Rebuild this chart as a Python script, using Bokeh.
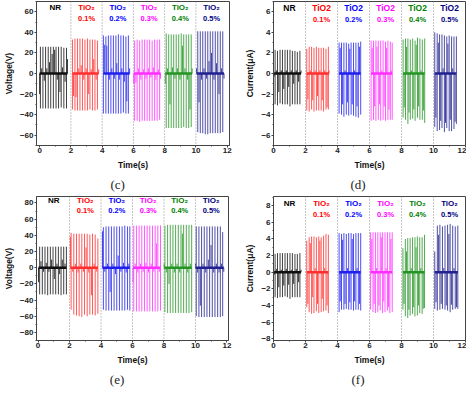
from bokeh.plotting import figure
from bokeh.models import Span, Label, FixedTicker, Range1d, LinearAxis
from bokeh.layouts import row, column
from bokeh.embed import file_html
from bokeh.resources import INLINE

# ---------------- shared data ----------------
SEG_NAMES = ["NR", "0.1%", "0.2%", "0.3%", "0.4%", "0.5%"]
SEG_COLORS = ["#111111", "#ff3030", "#2020ee", "#ff30ff", "#259525", "#222290"]
TEXT_COLORS = ["#000000", "#ff0000", "#0000ff", "#ff00ff", "#008000", "#000080"]
WINDOW_EDGES = [0, 2, 4, 6, 8, 10, 12]
DIVIDERS = [2, 4, 6, 8, 10]
X_TICKS = [0, 2, 4, 6, 8, 10, 12]
X_MINOR = [1, 3, 5, 7, 9, 11]

# ---------------- panel (c): voltage ----------------
C_T = [
    [0.05, 0.21, 0.38, 0.55, 0.71, 0.88, 1.05, 1.21, 1.38, 1.55, 1.72],
    [2.10, 2.26, 2.42, 2.58, 2.74, 2.90, 3.06, 3.22, 3.38, 3.54, 3.70],
    [4.08, 4.24, 4.40, 4.56, 4.72, 4.88, 5.04, 5.20, 5.36, 5.52, 5.68],
    [6.08, 6.24, 6.40, 6.56, 6.72, 6.88, 7.04, 7.20, 7.36, 7.52, 7.68],
    [8.10, 8.26, 8.42, 8.58, 8.74, 8.90, 9.06, 9.22, 9.38, 9.54, 9.70],
    [10.12, 10.28, 10.44, 10.60, 10.76, 10.92, 11.08, 11.24, 11.40, 11.56, 11.72],
]
C_POS = [
    [26, 26, 26, 26, 26, 26, 26, 26, 26, 25, 25],
    [33, 34, 34, 34, 34, 33, 34, 33, 33, 33, 32],
    [37, 36, 37, 37, 37, 37, 38, 37, 37, 36, 37],
    [32, 33, 32, 33, 33, 33, 33, 32, 33, 33, 33],
    [39, 38, 38, 38, 38, 38, 39, 38, 38, 38, 38],
    [41, 41, 41, 41, 41, 41, 41, 41, 41, 41, 41],
]
C_NEG = [
    [-34, -34, -34, -34, -34, -34, -34, -34, -33, -34, -34],
    [-35, -36, -36, -36, -36, -36, -36, -35, -36, -36, -35],
    [-39, -39, -39, -39, -39, -39, -39, -39, -38, -39, -39],
    [-46, -46, -47, -46, -46, -46, -46, -46, -46, -46, -45],
    [-53, -53, -53, -53, -53, -53, -53, -52, -53, -53, -52],
    [-57, -58, -58, -59, -59, -58, -58, -58, -58, -58, -57],
]
C_MT = [
    [0.00, 0.13, 0.30, 0.46, 0.63, 0.80, 0.96, 1.13, 1.30, 1.46, 1.63, 1.78],
    [2.17, 2.33, 2.50, 2.66, 2.82, 2.98, 3.14, 3.30, 3.46, 3.62, 3.78],
    [4.14, 4.30, 4.46, 4.62, 4.78, 4.94, 5.10, 5.26, 5.42, 5.58, 5.76],
    [6.02, 6.16, 6.32, 6.48, 6.64, 6.80, 6.96, 7.12, 7.28, 7.44, 7.60, 7.74],
    [8.04, 8.18, 8.34, 8.50, 8.66, 8.82, 8.98, 9.14, 9.30, 9.46, 9.62, 9.76],
    [10.04, 10.20, 10.36, 10.52, 10.68, 10.84, 11.00, 11.16, 11.32, 11.48, 11.64, 11.80],
]
C_MV = [
    [-20, 5, -7, 5, 11, 19, 23, -6, -18, 6, -8, 14],
    [-22, -23, 5, 8, -6, 5, -20, 4, 14, -6, 4],
    [28, 27, -6, 5, -5, 10, -6, 5, -8, -27, 5],
    [-10, -9, 5, -6, 4, -5, 5, -4, 6, -6, 4, -5],
    [-10, 5, -30, 6, -5, 5, -6, 27, 5, -6, -35, 5],
    [5, -28, -6, 5, -5, 12, 20, -6, 10, -20, 5, -5],
]

# ---------------- panel (d): current ----------------
D_T = [
    [0.10, 0.25, 0.41, 0.56, 0.72, 0.87, 1.03, 1.18, 1.34, 1.49, 1.65],
    [2.08, 2.23, 2.38, 2.53, 2.68, 2.83, 2.98, 3.13, 3.28, 3.43],
    [4.10, 4.25, 4.40, 4.55, 4.70, 4.85, 5.00, 5.15, 5.30, 5.45],
    [6.10, 6.25, 6.40, 6.55, 6.70, 6.85, 7.00, 7.15, 7.30, 7.42],
    [8.10, 8.25, 8.40, 8.55, 8.70, 8.85, 9.00, 9.15, 9.30, 9.45],
    [10.08, 10.23, 10.38, 10.53, 10.68, 10.83, 10.98, 11.13, 11.28, 11.43],
]
D_POS = [
    [2.3, 2.2, 2.3, 2.3, 2.3, 2.3, 2.3, 2.2, 2.2, 2.1, 2.2],
    [2.4, 2.6, 2.6, 2.5, 2.6, 2.5, 2.5, 2.5, 2.4, 2.6],
    [3.0, 3.0, 3.0, 3.0, 2.9, 3.0, 3.0, 3.0, 3.0, 3.1],
    [3.2, 3.2, 3.2, 3.2, 3.2, 3.2, 3.1, 3.2, 3.1, 3.0],
    [3.3, 3.4, 3.4, 3.3, 3.4, 3.2, 3.5, 3.4, 3.3, 3.4],
    [4.0, 3.9, 3.8, 3.8, 3.7, 3.6, 3.7, 3.6, 3.6, 3.6],
]
D_NEG = [
    [-3.0, -3.1, -2.9, -3.0, -3.0, -3.0, -3.2, -3.0, -3.0, -3.0, -3.0],
    [-3.6, -3.7, -3.5, -3.7, -3.6, -3.6, -3.6, -3.7, -3.5, -3.5],
    [-3.9, -4.0, -4.2, -4.0, -4.1, -4.0, -4.1, -4.2, -4.3, -4.0],
    [-4.6, -4.5, -4.6, -4.5, -4.6, -4.5, -4.6, -4.5, -4.5, -4.5],
    [-4.3, -4.5, -4.9, -4.5, -4.4, -4.6, -4.3, -4.5, -4.5, -4.8],
    [-5.2, -5.6, -5.5, -5.3, -5.7, -5.3, -5.6, -5.6, -5.4, -4.9],
]
D_MT = [
    [0.04, 0.18, 0.33, 0.49, 0.64, 0.80, 0.95, 1.11, 1.26, 1.42, 1.57, 1.72],
    [2.15, 2.30, 2.45, 2.60, 2.75, 2.90, 3.05, 3.20, 3.35, 3.47],
    [4.17, 4.32, 4.47, 4.62, 4.77, 4.92, 5.07, 5.22, 5.37],
    [6.17, 6.32, 6.47, 6.62, 6.77, 6.92, 7.07, 7.22, 7.36],
    [8.17, 8.32, 8.47, 8.62, 8.77, 8.92, 9.07, 9.22, 9.37],
    [10.15, 10.30, 10.45, 10.60, 10.75, 10.90, 11.05, 11.20, 11.35],
]
D_MV = [
    [-0.3, 0.3, -1.8, 0.3, -1.5, 0.3, -1.3, 0.3, -1.0, 0.3, -0.8, 0.3],
    [-2.5, 0.3, -2.6, 0.3, -2.2, 0.3, -2.6, 0.3, -3.3, 0.3],
    [2.5, -3.0, 0.3, -2.8, 2.4, -3.0, 0.3, -3.2, 2.6],
    [2.5, -3.2, 2.6, -3.0, 0.3, -3.2, 2.5, -3.5, 0.3],
    [-3.3, 2.6, -3.8, 0.3, -3.5, 2.8, -3.2, 0.3, -3.6],
    [-4.3, 3.0, -4.6, 0.5, -4.8, 2.9, -4.5, 0.5, -4.7],
]

# ---------------- panel (e): voltage ----------------
E_T = [
    [0.10, 0.27, 0.44, 0.61, 0.78, 0.95, 1.12, 1.29, 1.46, 1.63, 1.80],
    [2.10, 2.27, 2.44, 2.61, 2.78, 2.95, 3.12, 3.29, 3.46, 3.63, 3.80],
    [4.15, 4.32, 4.49, 4.66, 4.83, 5.00, 5.17, 5.34, 5.51, 5.68, 5.83],
    [6.08, 6.25, 6.42, 6.59, 6.76, 6.93, 7.10, 7.27, 7.44, 7.61, 7.78],
    [8.06, 8.23, 8.40, 8.57, 8.74, 8.91, 9.08, 9.25, 9.42, 9.59, 9.76],
    [10.05, 10.22, 10.39, 10.56, 10.73, 10.90, 11.07, 11.24, 11.41, 11.58, 11.73],
]
E_POS = [
    [26, 26, 26, 26, 26, 26, 26, 26, 26, 26, 26],
    [43, 42, 42, 42, 42, 42, 42, 41, 42, 41, 36],
    [50, 51, 51, 51, 51, 51, 51, 51, 52, 51, 51],
    [52, 52, 52, 52, 52, 52, 52, 52, 52, 52, 52],
    [52, 53, 53, 53, 53, 53, 53, 53, 53, 53, 53],
    [51, 51, 51, 51, 51, 51, 51, 51, 51, 51, 44],
]
E_NEG = [
    [-33, -33, -33, -34, -33, -33, -33, -33, -34, -33, -33],
    [-52, -58, -59, -60, -61, -58, -60, -58, -58, -59, -57],
    [-52, -53, -53, -53, -53, -53, -53, -53, -53, -52, -53],
    [-54, -54, -54, -54, -54, -54, -54, -54, -54, -54, -53],
    [-55, -56, -56, -56, -56, -56, -56, -56, -56, -56, -55],
    [-60, -61, -61, -61, -61, -61, -61, -61, -61, -61, -60],
]
E_MT = [
    [0.03, 0.18, 0.35, 0.52, 0.69, 0.86, 1.03, 1.20, 1.37, 1.54, 1.71],
    [2.05, 2.20, 2.37, 2.54, 2.71, 2.88, 3.05, 3.22, 3.39, 3.56, 3.73],
    [4.09, 4.24, 4.41, 4.58, 4.75, 4.92, 5.09, 5.26, 5.43, 5.60, 5.77],
    [6.03, 6.17, 6.34, 6.51, 6.68, 6.85, 7.02, 7.19, 7.36, 7.53, 7.70],
    [8.01, 8.15, 8.32, 8.49, 8.66, 8.83, 9.00, 9.17, 9.34, 9.51, 9.68],
    [10.00, 10.14, 10.31, 10.48, 10.65, 10.82, 10.99, 11.16, 11.33, 11.50, 11.66, 11.80],
]
E_MV = [
    [-18, 8, -5, 6, -5, 10, -14, 5, -8, 10, 5],
    [38, -5, 5, -6, 5, -5, 25, -6, -34, 5, -5],
    [45, -5, 5, -30, 5, -8, 15, -5, 6, -6, 5],
    [-18, 5, -6, 5, -5, 6, -6, 5, -5, 30, -5],
    [5, -6, -20, 5, -6, 5, -6, 42, 5, -6, 5],
    [5, -6, -47, 5, -6, 10, 28, -6, 5, -6, 5, -5],
]

# ---------------- panel (f): current ----------------
F_T = [
    [0.10, 0.25, 0.41, 0.56, 0.72, 0.87, 1.03, 1.18, 1.34, 1.49, 1.65],
    [2.08, 2.23, 2.38, 2.53, 2.68, 2.83, 2.98, 3.13, 3.28, 3.43],
    [4.10, 4.25, 4.40, 4.55, 4.70, 4.85, 5.00, 5.15, 5.30, 5.45],
    [6.07, 6.22, 6.37, 6.52, 6.67, 6.82, 6.97, 7.12, 7.27, 7.42],
    [8.09, 8.24, 8.39, 8.54, 8.69, 8.84, 8.99, 9.14, 9.29, 9.44],
    [10.08, 10.24, 10.40, 10.56, 10.72, 10.88, 11.04, 11.20, 11.36, 11.52],
]
F_POS = [
    [2.2, 2.3, 2.3, 2.3, 2.3, 2.3, 2.3, 2.3, 2.2, 2.2, 2.3],
    [3.8, 4.2, 4.3, 4.3, 4.2, 4.3, 4.2, 4.4, 4.6, 4.5],
    [4.7, 4.6, 4.7, 4.6, 4.7, 4.7, 4.6, 4.7, 4.7, 4.7],
    [4.8, 4.8, 4.8, 4.8, 4.8, 4.8, 4.8, 4.8, 4.8, 4.8],
    [2.9, 4.0, 4.1, 4.1, 4.2, 4.2, 4.3, 4.2, 4.2, 4.5],
    [2.5, 5.6, 5.7, 5.5, 5.6, 5.7, 5.8, 5.6, 5.5, 5.6],
]
F_NEG = [
    [-3.0, -3.1, -3.0, -3.0, -2.9, -3.0, -3.2, -3.0, -3.0, -3.0, -3.0],
    [-4.2, -4.8, -5.0, -4.9, -4.7, -4.9, -4.8, -4.7, -4.6, -4.9],
    [-4.8, -4.5, -4.5, -4.4, -4.5, -4.5, -4.6, -4.5, -4.5, -4.6],
    [-4.5, -4.8, -4.9, -4.8, -4.6, -4.9, -4.8, -4.6, -4.9, -4.8],
    [-4.5, -5.3, -5.5, -5.2, -5.0, -5.3, -5.2, -4.9, -5.0, -4.3],
    [-4.4, -4.6, -4.5, -4.4, -4.5, -4.6, -4.8, -4.5, -4.4, -4.4],
]
F_MT = [
    [0.04, 0.18, 0.33, 0.49, 0.64, 0.80, 0.95, 1.11, 1.26, 1.42, 1.57, 1.72],
    [2.15, 2.30, 2.45, 2.60, 2.75, 2.90, 3.05, 3.20, 3.35],
    [4.17, 4.32, 4.47, 4.62, 4.77, 4.92, 5.07, 5.22, 5.37],
    [6.14, 6.29, 6.44, 6.59, 6.74, 6.89, 7.04, 7.19, 7.34],
    [8.16, 8.31, 8.46, 8.61, 8.76, 8.91, 9.06, 9.21, 9.36],
    [10.16, 10.32, 10.48, 10.64, 10.80, 10.96, 11.12, 11.28, 11.44],
]
F_MV = [
    [-0.3, 0.4, -1.8, 0.3, -1.6, 0.4, -1.5, 0.3, -1.4, 0.4, -1.2, 0.3],
    [-3.8, 3.5, -3.0, 0.5, -3.8, 3.8, -3.2, 0.5, -4.0],
    [-3.5, 3.9, -3.8, 0.5, -3.6, 4.0, -3.5, 0.5, -3.8],
    [4.0, -3.8, 0.5, -4.0, 4.2, -3.5, 0.5, -4.2, 4.0],
    [-3.8, 2.5, -4.5, 0.5, -4.2, 3.0, -4.0, 0.5, -4.4],
    [-3.6, 4.5, -3.8, 0.5, -4.0, 4.6, -3.9, 0.5, -4.2],
]

V_TICKS_C = [-60, -40, -20, 0, 20, 40, 60]
V_MINOR_C = [-70, -50, -30, -10, 10, 30, 50, 70]
I_TICKS_D = [-6, -4, -2, 0, 2, 4, 6]
I_MINOR_D = [-7, -5, -3, -1, 1, 3, 5, 7]
V_TICKS_E = [-80, -60, -40, -20, 0, 20, 40, 60, 80]
V_MINOR_E = [-90, -70, -50, -30, -10, 10, 30, 50, 70]
I_TICKS_F = [-8, -6, -4, -2, 0, 2, 4, 6, 8]
I_MINOR_F = [-7, -5, -3, -1, 1, 3, 5, 7, 9]

FONT = "Liberation Sans"
TAG_FONT = "Liberation Serif"
AXIS_COLOR = "#444444"


def make_panel(T, POS, NEG, MT, MV, xr, yr, yticks, yminor, ylabel, tag,
               tio_text, fw, fh, borders, fr_top, fr_pct, tag_fx, tag_gap,
               lab_size):
    p = figure(frame_width=fw, frame_height=fh, output_backend="svg",
               toolbar_location=None,
               x_range=Range1d(*xr), y_range=Range1d(*yr),
               min_border_left=borders[0], min_border_right=borders[1],
               min_border_top=borders[2], min_border_bottom=borders[3])
    p.grid.visible = False
    p.outline_line_color = AXIS_COLOR
    p.outline_line_width = 1
    p.background_fill_color = "white"
    p.border_fill_color = "white"

    for x in DIVIDERS:
        p.add_layout(Span(location=x, dimension="height", line_color="#8a8a8a",
                          line_dash="1 2", line_width=1))

    for i in range(6):
        col = SEG_COLORS[i]
        t_all = T[i] + MT[i]
        p.segment(x0=min(t_all), y0=0, x1=max(t_all), y1=0, line_color=col,
                  line_width=2.5)
        p.segment(x0=MT[i], y0=[0] * len(MT[i]), x1=MT[i], y1=MV[i],
                  line_color=col, line_width=1, line_alpha=0.85)
        p.segment(x0=T[i], y0=NEG[i], x1=T[i], y1=POS[i],
                  line_color=col, line_width=1, line_alpha=0.8)

    yspan = yr[1] - yr[0]
    ytop = yr[1] - fr_top * yspan
    ypct = yr[1] - fr_pct * yspan
    for i in range(6):
        xc = (WINDOW_EDGES[i] + WINDOW_EDGES[i + 1]) / 2
        first = SEG_NAMES[0] if i == 0 else tio_text
        p.add_layout(Label(x=xc, y=ytop, text=first, text_color=TEXT_COLORS[i],
                           text_font=FONT, text_font_style="bold",
                           text_font_size=lab_size, text_align="center",
                           text_baseline="middle"))
        if i > 0:
            p.add_layout(Label(x=xc, y=ypct, text=SEG_NAMES[i], text_color=TEXT_COLORS[i],
                               text_font=FONT, text_font_style="bold",
                               text_font_size="7.5px", text_align="center",
                               text_baseline="middle"))

    p.xaxis.ticker = FixedTicker(ticks=X_TICKS, minor_ticks=X_MINOR)
    p.yaxis.ticker = FixedTicker(ticks=yticks, minor_ticks=yminor)
    p.xaxis.axis_label = "Time(s)"
    p.yaxis.axis_label = ylabel
    for ax in (p.xaxis[0], p.yaxis[0]):
        ax.axis_line_color = AXIS_COLOR
        ax.major_tick_line_color = AXIS_COLOR
        ax.minor_tick_line_color = AXIS_COLOR
        ax.major_tick_in = 0
        ax.major_tick_out = 2
        ax.minor_tick_in = 0
        ax.minor_tick_out = 1
        ax.major_label_text_font = FONT
        ax.major_label_text_font_style = "bold"
        ax.major_label_text_font_size = "8px"
        ax.major_label_text_color = "#222222"
        ax.major_label_standoff = 1
        ax.axis_label_text_font = FONT
        ax.axis_label_text_font_style = "bold"
        ax.axis_label_text_font_size = "8.5px"
        ax.axis_label_text_color = "#111111"
        ax.axis_label_standoff = 3
    p.xaxis[0].major_label_standoff = 0
    p.xaxis[0].axis_label_standoff = 4

    # panel tag "(c)" etc. drawn as the single label of an extra, bare axis
    xt = round(xr[0] + tag_fx * (xr[1] - xr[0]), 2)
    tag_axis = LinearAxis(ticker=FixedTicker(ticks=[xt]),
                          major_label_overrides={xt: tag})
    tag_axis.axis_line_color = None
    tag_axis.major_tick_line_color = None
    tag_axis.minor_tick_line_color = None
    tag_axis.major_tick_in = 0
    tag_axis.major_tick_out = 0
    tag_axis.minor_tick_in = 0
    tag_axis.minor_tick_out = 0
    tag_axis.major_label_standoff = tag_gap
    tag_axis.major_label_text_font = TAG_FONT
    tag_axis.major_label_text_font_size = "13px"
    tag_axis.major_label_text_font_style = "normal"
    tag_axis.major_label_text_color = "#222222"
    p.add_layout(tag_axis, "below")
    return p


pc = make_panel(C_T, C_POS, C_NEG, C_MT, C_MV, (-0.2, 12.15), (-70, 70),
                V_TICKS_C, V_MINOR_C, "Voltage(V)", "(c)",
                "TiO\u2082", 193, 144, (28, 8, 1, 0), 0.04, 0.12, 0.42, 4, "8px")
pd = make_panel(D_T, D_POS, D_NEG, D_MT, D_MV, (0, 12), (-7, 7),
                I_TICKS_D, I_MINOR_D, "Current(\u03bcA)", "(d)",
                "TiO2", 192, 144, (36, 1, 1, 0), 0.045, 0.125, 0.44, 4, "8.5px")
pe = make_panel(E_T, E_POS, E_NEG, E_MT, E_MV, (-0.1, 12.1), (-90, 88),
                V_TICKS_E, V_MINOR_E, "Voltage(V)", "(e)",
                "TiO\u2082", 192, 144, (28, 9, 2, 0), 0.025, 0.1, 0.42, 4, "8px")
pf = make_panel(F_T, F_POS, F_NEG, F_MT, F_MV, (0, 12), (-8.2, 9.1),
                I_TICKS_F, I_MINOR_F, "Current(\u03bcA)", "(f)",
                "TiO\u2082", 192, 144, (36, 1, 2, 0), 0.05, 0.125, 0.44, 4, "8px")

layout = column(row(pc, pd), row(pe, pf))
open("out.html", "w").write(file_html(layout, INLINE))
